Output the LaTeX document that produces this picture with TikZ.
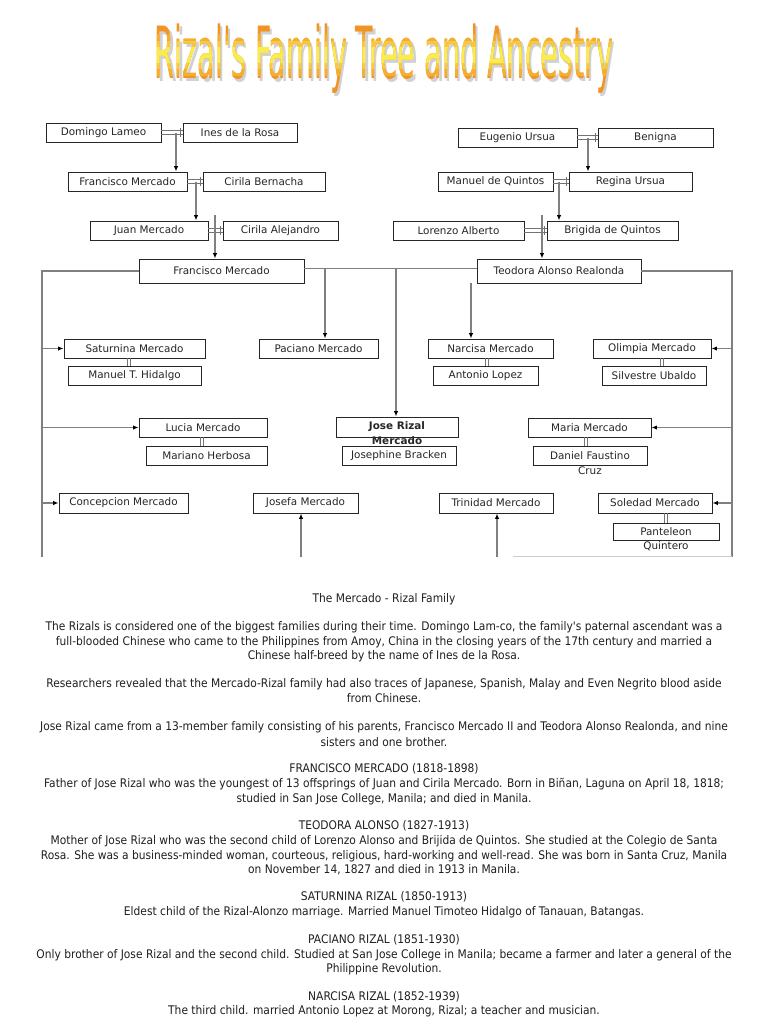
\documentclass[tikz,border=0pt]{standalone}
\usepackage{fontspec}
\usetikzlibrary{arrows.meta,calc}
\setmainfont{DejaVu Sans}
\newfontfamily\boxfont{DejaVu Sans}
\newfontfamily\parafont[FakeStretch=0.9]{DejaVu Sans}
\newfontfamily\ttlfont{DejaVu Sans}
\newcommand\famnode[6]{\node[famb, minimum width={(#4-#2)*0.75pt}, minimum height={(#5-#3)*0.75pt}] (#1) at ({(#2+#4)/2},{(#3+#5)/2}) {#6};}
\newcommand\cpl[3]{\draw[mline] ({#3-1.8},0 |- #1.south) -- ({#3-1.8},0 |- #2.north) ({#3+1.8},0 |- #1.south) -- ({#3+1.8},0 |- #2.north);}
\newcommand\marr[2]{\draw[mline] ([yshift=1.5pt]#1.east) -- ([yshift=1.5pt]#2.west) ([yshift=-1.5pt]#1.east) -- ([yshift=-1.5pt]#2.west) ([xshift=-1.4pt,yshift=3.5pt]#2.west) -- ([xshift=-1.4pt,yshift=-3.5pt]#2.west);}
\newcommand\ttltext{\resizebox{343.5pt}{41pt}{\ttlfont\fontsize{20}{20}\selectfont Rizal's Family Tree and Ancestry}}
\definecolor{ttlorange}{RGB}{242,148,36}
\definecolor{ttlyellow}{RGB}{250,236,76}
\tikzset{
famb/.style={draw=black!85, line width=0.7pt, fill=white, inner sep=0pt, font=\boxfont\fontsize{7.8}{9}\selectfont, text=black!85},
conn/.style={draw=black!50, line width=0.8pt},
arr/.style={conn, -{Latex[length=4pt,width=3.2pt,black]}},
mline/.style={draw=black!55, line width=0.6pt},
lbl/.style={inner sep=0pt, font=\boxfont\fontsize{7.8}{9}\selectfont, text=black!85},
para/.style={inner sep=0pt, font=\parafont\fontsize{8.9}{10}\selectfont, text=black!88},
ttlnode/.style={inner sep=0pt}
}
\begin{document}
\begin{tikzpicture}[x=0.75pt,y=-0.75pt]
\useasboundingbox[fill=white] (0,0) rectangle (768,1024);
% title: shadow, orange text, yellow middle bands
\node[ttlnode, text=black!18] (tshadow) at (386.5,62) {\ttltext};
\node[ttlnode, text=ttlorange] (title) at (384,59) {\ttltext};
\foreach \ya/\yb/\tv in {35/42/70, 42/48/38, 48/64/0, 64/70/38, 70/76/70} {
  \begin{scope}
  \clip (140,\ya) rectangle (630,\yb);
  \node[ttlnode, text=ttlorange!\tv!ttlyellow] (ttl\ya) at (384,59) {\ttltext};
  \end{scope}
}
% ancestors left
\famnode{dl}{46}{123}{161}{142}{Domingo Lameo}
\famnode{ir}{183}{123}{297}{142}{Ines de la Rosa}
\famnode{fmo}{68}{172}{187}{191}{Francisco Mercado}
\famnode{cb}{203}{172}{325}{191}{Cirila Bernacha}
\famnode{jm}{90}{221}{208}{240}{Juan Mercado}
\famnode{ca}{223}{221}{338}{240}{Cirila Alejandro}
\famnode{fm}{139}{259}{304}{283}{Francisco Mercado}
% ancestors right
\famnode{eu}{458}{128}{577}{147}{Eugenio Ursua}
\famnode{be}{598}{128}{713}{147}{Benigna}
\famnode{mq}{438}{172}{553}{191}{Manuel de Quintos}
\famnode{ru}{569}{172}{692}{191}{Regina Ursua}
\famnode{la}{393}{221}{524}{240}{Lorenzo Alberto}
\famnode{bq}{547}{221}{678}{240}{Brigida de Quintos}
\famnode{ta}{477}{259}{641}{283}{Teodora Alonso Realonda}
% marriages
\marr{dl}{ir}
\marr{fmo}{cb}
\marr{jm}{ca}
\marr{eu}{be}
\marr{mq}{ru}
\marr{la}{bq}
\coordinate (m1) at (176,132.5);
\coordinate (m2) at (196,181.5);
\coordinate (m3) at (215,215);
\coordinate (m4) at (588,137.5);
\coordinate (m5) at (559,181.5);
\coordinate (m6) at (542,215);
\draw[arr] (m1) -- (m1 |- fmo.north);
\draw[arr] (m2) -- (m2 |- jm.north);
\draw[arr] (m3) -- (m3 |- fm.north);
\draw[arr] (m4) -- (m4 |- ru.north);
\draw[arr] (m5) -- (m5 |- bq.north);
\draw[arr] (m6) -- (m6 |- ta.north);
% children
\famnode{sm}{64}{339}{205}{358}{Saturnina Mercado}
\famnode{mh}{68}{366}{201}{385}{Manuel T. Hidalgo}
\famnode{pm}{259}{339}{378}{358}{Paciano Mercado}
\famnode{nm}{428}{339}{553}{358}{Narcisa Mercado}
\famnode{al}{433}{366}{538}{385}{Antonio Lopez}
\famnode{om}{593}{339}{711}{358}{Olimpia Mercado}
\famnode{su}{602}{366}{706}{385}{Silvestre Ubaldo}
\famnode{lm}{139}{418}{267}{437}{Lucia Mercado}
\famnode{mhb}{146}{446}{267}{465}{Mariano Herbosa}
\famnode{jb}{342}{446}{456}{465}{Josephine Bracken}
\famnode{jr}{336}{417}{458}{437}{\bfseries Jose Rizal}
\node[lbl, font=\boxfont\fontsize{7.8}{9}\selectfont\bfseries] (jrm) at (397,441) {Mercado};
\famnode{mm}{528}{418}{651}{437}{Maria Mercado}
\famnode{df}{533}{446}{647}{465}{Daniel Faustino}
\node[lbl] (dfc) at (590,471) {Cruz};
\famnode{cm}{59}{493}{188}{513}{Concepcion Mercado}
\famnode{jf}{253}{493}{358}{513}{Josefa Mercado}
\famnode{tm}{439}{493}{553}{513}{Trinidad Mercado}
\famnode{sl}{598}{493}{712}{513}{Soledad Mercado}
\famnode{pq}{613}{523}{719}{540}{Panteleon}
\node[lbl] (pqc) at (666,546) {Quintero};
\cpl{sm}{mh}{129}
\cpl{nm}{al}{487}
\cpl{om}{su}{662}
\cpl{lm}{mhb}{202}
\cpl{mm}{df}{586}
\cpl{sl}{pq}{666}
% family lines
\coordinate (L0) at (42,271);
\coordinate (L1) at (42,557);
\coordinate (R0) at (732,271);
\coordinate (R1) at (732,557);
\draw[conn] (fm.west) -- (L0) -- (L1);
\draw[conn] (ta.east) -- (R0) -- (R1);
\draw[conn] ([yshift=2pt]fm.east) -- ([yshift=2pt]ta.west);
\draw[arr] (L0 |- sm.west) -- (sm.west);
\draw[arr] (L0 |- lm.west) -- (lm.west);
\draw[arr] (L0 |- cm.west) -- (cm.west);
\draw[arr] (R0 |- om.east) -- (om.east);
\draw[arr] (R0 |- mm.east) -- (mm.east);
\draw[arr] (R0 |- sl.east) -- (sl.east);
\coordinate (pc) at (325,268.5);
\coordinate (jc) at (396,268.5);
\draw[arr] (pc) -- (pc |- pm.north);
\draw[arr] (jc) -- (jc |- jr.north);
\draw[arr] (471,0 |- ta.south) -- (471,0 |- nm.north);
\coordinate (jfb) at (301,557);
\coordinate (tmb) at (497,557);
\draw[arr] (jfb) -- (jfb |- jf.south);
\draw[arr] (tmb) -- (tmb |- tm.south);
\coordinate (bl) at (513,556);
\draw[draw=black!20, line width=0.7pt] (bl) -- (R1 |- bl);
% text
\node[para] (t1) at (384,599) {The Mercado - Rizal Family};
\node[para] (t2) at (384,627) {The Rizals is considered one of the biggest families during their time. Domingo Lam-co, the family's paternal ascendant was a};
\node[para] (t3) at (384,642) {full-blooded Chinese who came to the Philippines from Amoy, China in the closing years of the 17th century and married a};
\node[para] (t4) at (384,656) {Chinese half-breed by the name of Ines de la Rosa.};
\node[para] (t5) at (384,684) {Researchers revealed that the Mercado-Rizal family had also traces of Japanese, Spanish, Malay and Even Negrito blood aside};
\node[para] (t6) at (384,698) {from Chinese.};
\node[para] (t7) at (384,727) {Jose Rizal came from a 13-member family consisting of his parents, Francisco Mercado II and Teodora Alonso Realonda, and nine};
\node[para] (t8) at (384,742) {sisters and one brother.};
\node[para] (t9) at (384,769) {FRANCISCO MERCADO (1818-1898)};
\node[para] (t10) at (384,784) {Father of Jose Rizal who was the youngest of 13 offsprings of Juan and Cirila Mercado. Born in Biñan, Laguna on April 18, 1818;};
\node[para] (t11) at (384,799) {studied in San Jose College, Manila; and died in Manila.};
\node[para] (t12) at (384,826) {TEODORA ALONSO (1827-1913)};
\node[para] (t13) at (384,841) {Mother of Jose Rizal who was the second child of Lorenzo Alonso and Brijida de Quintos. She studied at the Colegio de Santa};
\node[para] (t14) at (384,856) {Rosa. She was a business-minded woman, courteous, religious, hard-working and well-read. She was born in Santa Cruz, Manila};
\node[para] (t15) at (384,870) {on November 14, 1827 and died in 1913 in Manila.};
\node[para] (t16) at (384,897) {SATURNINA RIZAL (1850-1913)};
\node[para] (t17) at (384,912) {Eldest child of the Rizal-Alonzo marriage. Married Manuel Timoteo Hidalgo of Tanauan, Batangas.};
\node[para] (t18) at (384,940) {PACIANO RIZAL (1851-1930)};
\node[para] (t19) at (384,955) {Only brother of Jose Rizal and the second child. Studied at San Jose College in Manila; became a farmer and later a general of the};
\node[para] (t20) at (384,969) {Philippine Revolution.};
\node[para] (t21) at (384,997) {NARCISA RIZAL (1852-1939)};
\node[para] (t22) at (384,1011) {The third child. married Antonio Lopez at Morong, Rizal; a teacher and musician.};
\end{tikzpicture}
\end{document}
